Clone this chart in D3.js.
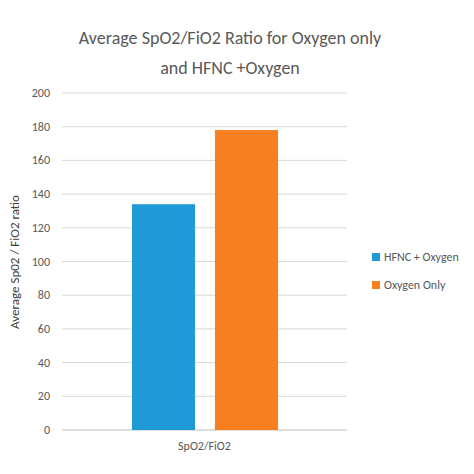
<!DOCTYPE html><html><head><script src="https://cdn.jsdelivr.net/npm/d3@7"></script>
<style>body{margin:0;background:#fff}</style></head><body><svg width="474" height="474"></svg>
<script>
const categories=["SpO2/FiO2"];
const seriesNames=["HFNC + Oxygen","Oxygen Only"];
const seriesValues=[134,178];
const colors=["#1f9ad6","#f77f1f"];
const yTicks=[0,20,40,60,80,100,120,140,160,180,200];
const svg=d3.select("svg");
const font="Calibri, Carlito, 'Liberation Sans', sans-serif";
const y=d3.scaleLinear().domain([0,200]).range([430,93]);
const x=d3.scaleBand().domain(categories).range([62,347]);
const xs=d3.scaleBand().domain(seriesNames).range([132,278]).paddingInner(0.24);
svg.append("g").selectAll("line").data(yTicks).join("line")
 .attr("x1",62).attr("x2",347).attr("y1",d=>y(d)).attr("y2",d=>y(d))
 .attr("stroke",d=>d===0?"#bfbfbf":"#d9d9d9").attr("stroke-width",1);
svg.append("g").selectAll("text").data(yTicks).join("text")
 .attr("x",50).attr("y",d=>y(d)+4).attr("text-anchor","end")
 .attr("font-family",font).attr("font-size",12).attr("fill","#595959").text(d=>d);
svg.append("g").selectAll("rect").data(seriesValues).join("rect")
 .attr("x",(d,i)=>xs(seriesNames[i])).attr("width",xs.bandwidth())
 .attr("y",d=>y(d)).attr("height",d=>y(0)-y(d)).attr("fill",(d,i)=>colors[i]);
svg.append("text").attr("x",x(categories[0])+x.bandwidth()/2).attr("y",450).attr("text-anchor","middle")
 .attr("font-family",font).attr("font-size",12).attr("fill","#595959").text(categories[0]);
svg.append("text").attr("transform","translate(19,262) rotate(-90)").attr("text-anchor","middle")
 .attr("font-family",font).attr("font-size",13).attr("fill","#404040").text("Average Sp02 / FiO2 ratio");
svg.append("text").attr("x",230).attr("y",44).attr("text-anchor","middle")
 .attr("font-family",font).attr("font-size",18).attr("fill","#595959").text("Average SpO2/FiO2 Ratio for Oxygen only");
svg.append("text").attr("x",230).attr("y",74).attr("text-anchor","middle")
 .attr("font-family",font).attr("font-size",18).attr("fill","#595959").text("and HFNC  +Oxygen");
const lg=svg.append("g").selectAll("g").data(seriesNames).join("g")
 .attr("transform",(d,i)=>`translate(372,${257+i*28})`);
lg.append("rect").attr("x",0).attr("y",-4).attr("width",8).attr("height",8).attr("fill",(d,i)=>colors[i]);
lg.append("text").attr("x",12).attr("y",4).attr("font-family",font).attr("font-size",12).attr("fill","#595959").text(d=>d);
</script></body></html>
